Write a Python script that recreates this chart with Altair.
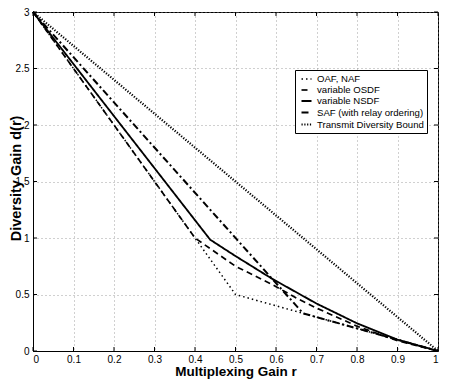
import altair as alt
import pandas as pd

series_names = ["OAF, NAF", "variable OSDF", "variable NSDF",
                "SAF (with relay ordering)", "Transmit Diversity Bound"]

r_oaf = [0.0, 0.5, 1.0]
d_oaf = [3.0, 0.5, 0.0]

r_osdf = [0.0, 0.4, 0.5, 0.59, 0.65, 0.7, 0.8, 0.9, 1.0]
d_osdf = [3.0, 1.0, 0.75, 0.59, 0.47, 0.38, 0.22, 0.09, 0.0]

r_nsdf = [0.0, 0.4375, 0.5, 0.59, 0.66, 0.7, 0.8, 0.9, 1.0]
d_nsdf = [3.0, 0.985, 0.84, 0.64, 0.5, 0.42, 0.245, 0.1, 0.0]

r_saf = [0.0, 0.667, 1.0]
d_saf = [3.0, 0.333, 0.0]

r_tdb = [0.0, 1.0]
d_tdb = [3.0, 0.0]

x_ticks = [0, 0.1, 0.2, 0.3, 0.4, 0.5, 0.6, 0.7, 0.8, 0.9, 1]
y_ticks = [0, 0.5, 1, 1.5, 2, 2.5, 3]

rows = []
for name, rs, ds in zip(series_names,
                        [r_oaf, r_osdf, r_nsdf, r_saf, r_tdb],
                        [d_oaf, d_osdf, d_nsdf, d_saf, d_tdb]):
    for i, (r, d) in enumerate(zip(rs, ds)):
        rows.append({"series": name, "r": r, "d": d, "order": i})
df = pd.DataFrame(rows)
xt = pd.DataFrame({"r": x_ticks})
yt = pd.DataFrame({"d": y_ticks})

dashes = [[1.5, 3], [6, 4], [1, 0], [7, 3, 2, 3], [1.2, 1.6]]
widths = [1.5, 2.2, 2.2, 2.0, 2.5]

W, H, TK = 405, 339, 4
FONT = "Liberation Sans"

legend_def = alt.Legend(title=None, orient="none", legendX=262, legendY=58)

xscale = alt.Scale(domain=[0, 1], nice=False)
yscale = alt.Scale(domain=[0, 3], nice=False)

lines = alt.Chart(df).mark_line(color="black", strokeCap="butt").encode(
    x=alt.X("r:Q", scale=xscale,
            axis=alt.Axis(values=x_ticks, title="Multiplexing Gain r",
                          labelExpr="datum.value == 0 ? '0' : datum.value == 1 ? '1' : format(datum.value, '.1f')",
                          titleY=24, titleBaseline="alphabetic",
                          titleFontSize=13.5, labelPadding=3)),
    y=alt.Y("d:Q", scale=yscale,
            axis=alt.Axis(values=y_ticks, title="Diversity Gain d(r)",
                          labelExpr="format(datum.value, '~g')",
                          titleX=-13, titleY=166, titleAngle=-90,
                          titleBaseline="alphabetic", titleAlign="center",
                          titleFontSize=14.5, labelPadding=4)),
    strokeDash=alt.StrokeDash("series:N",
                              scale=alt.Scale(domain=series_names, range=dashes),
                              legend=legend_def),
    strokeWidth=alt.StrokeWidth("series:N",
                                scale=alt.Scale(domain=series_names, range=widths),
                                legend=legend_def),
    order="order:Q",
)

tick_style = dict(color="black", strokeWidth=1)
xt_bottom = alt.Chart(xt).mark_rule(**tick_style).encode(
    x=alt.X("r:Q", scale=xscale), y=alt.value(H), y2=alt.value(H - TK))
xt_top = alt.Chart(xt).mark_rule(**tick_style).encode(
    x=alt.X("r:Q", scale=xscale), y=alt.value(0), y2=alt.value(TK))
yt_left = alt.Chart(yt).mark_rule(**tick_style).encode(
    y=alt.Y("d:Q", scale=yscale), x=alt.value(0), x2=alt.value(TK))
yt_right = alt.Chart(yt).mark_rule(**tick_style).encode(
    y=alt.Y("d:Q", scale=yscale), x=alt.value(W), x2=alt.value(W - TK))

chart = alt.layer(lines, xt_bottom, xt_top, yt_left, yt_right).properties(
    width=W, height=H,
    autosize=alt.AutoSizeParams(type="none"),
    padding={"left": 25, "top": 4, "right": 20, "bottom": 30},
).configure_view(
    stroke="black", strokeWidth=1
).configure_axis(
    labelFont=FONT, titleFont=FONT, labelFontSize=10,
    titleFontWeight="bold", labelColor="black", titleColor="black",
    domainColor="black", domainWidth=1, ticks=False,
    grid=True, gridColor="#888888", gridDash=[1, 3], gridWidth=0.8,
).configure_legend(
    labelFont=FONT, labelFontSize=9.6, labelColor="black",
    symbolType="stroke", symbolSize=100, symbolStrokeColor="black",
    strokeColor="black", fillColor="white", padding=3, rowPadding=0,
    labelOffset=4, symbolOffset=2,
)

chart.save("out.html", embed_options={"renderer": "svg", "actions": False})
